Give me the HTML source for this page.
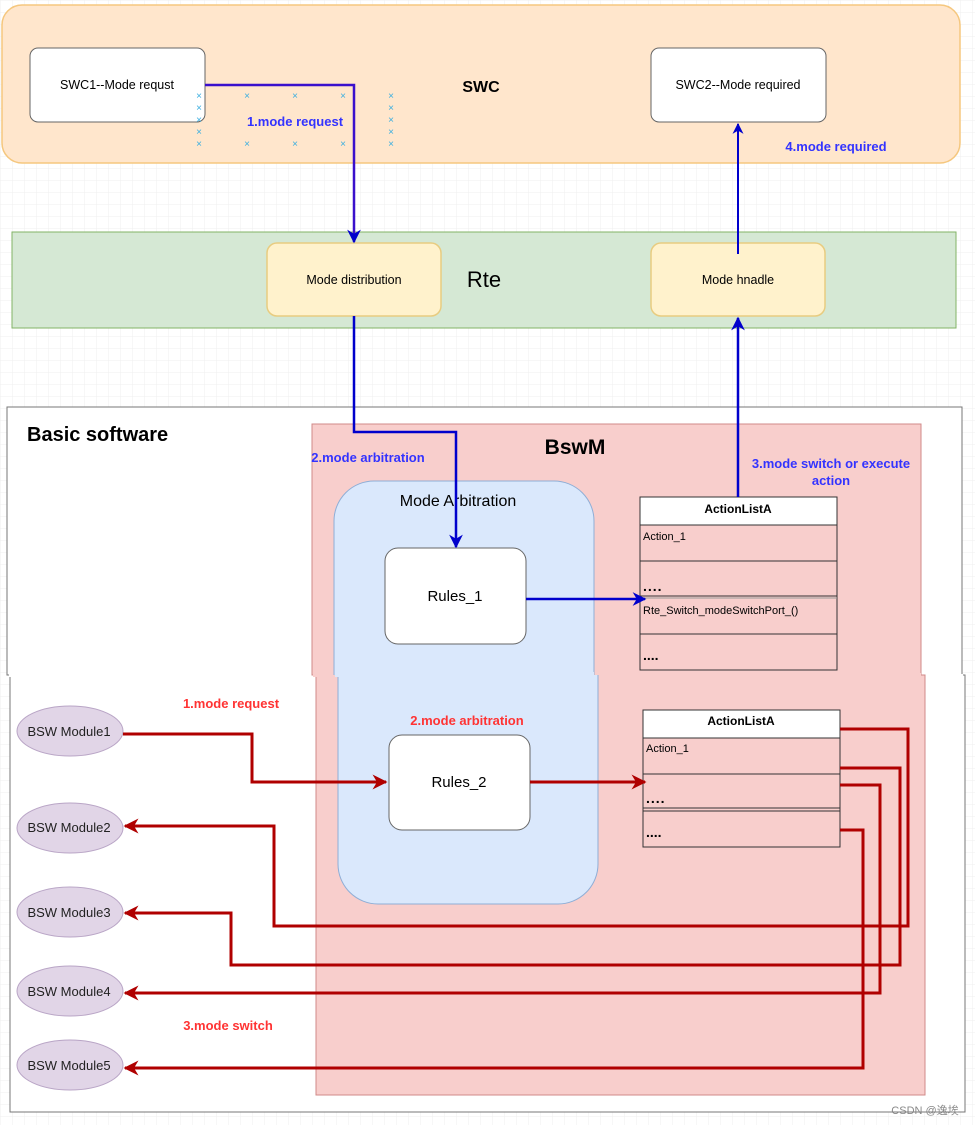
<!DOCTYPE html>
<html><head><meta charset="utf-8"><style>
html,body{margin:0;padding:0;background:#fff}
svg{display:block}
text{font-family:"Liberation Sans","Noto Sans CJK SC",sans-serif}
</style></head><body>
<svg width="975" height="1125" viewBox="0 0 975 1125" xmlns="http://www.w3.org/2000/svg">
<defs>
<pattern id="g" width="12" height="12" patternUnits="userSpaceOnUse"><path d="M12 0H0V12" fill="none" stroke="#efefef" stroke-width="1"/></pattern>
<marker id="ab" viewBox="0 0 10 10" refX="9" refY="5" markerWidth="5.5" markerHeight="5.5" orient="auto"><path d="M0 0L10 5L0 10L3 5z" fill="#0000cc"/></marker>
<marker id="ar" viewBox="0 0 10 10" refX="9" refY="5" markerWidth="5" markerHeight="5" orient="auto"><path d="M0 0L10 5L0 10L3 5z" fill="#b00000"/></marker>
</defs>
<rect width="975" height="1125" fill="url(#g)"/>
<!-- SWC -->
<rect x="2" y="5" width="958" height="158" rx="20" fill="#ffe6cc" stroke="#f5c77e" stroke-width="1.5"/>
<rect x="30" y="48" width="175" height="74" rx="8" fill="#fff" stroke="#666"/>
<text x="117" y="89" font-size="12.5" text-anchor="middle">SWC1--Mode requst</text>
<rect x="651" y="48" width="175" height="74" rx="8" fill="#fff" stroke="#666"/>
<text x="738" y="89" font-size="12.5" text-anchor="middle">SWC2--Mode required</text>
<text x="481" y="92" font-size="16" font-weight="bold" text-anchor="middle">SWC</text>
<g style="fill:#3aaee0" font-size="10" text-anchor="middle">
<text x="199" y="99">×</text><text x="199" y="111">×</text><text x="199" y="123">×</text><text x="199" y="135">×</text><text x="199" y="147">×</text>
<text x="247" y="99">×</text><text x="295" y="99">×</text><text x="343" y="99">×</text><text x="391" y="99">×</text>
<text x="391" y="111">×</text><text x="391" y="123">×</text><text x="391" y="135">×</text><text x="391" y="147">×</text>
<text x="247" y="147">×</text><text x="295" y="147">×</text><text x="343" y="147">×</text>
</g>
<text x="295" y="126" font-size="13" font-weight="bold" fill="#3333ff" text-anchor="middle">1.mode request</text>
<text x="836" y="151" font-size="13" font-weight="bold" fill="#3333ff" text-anchor="middle">4.mode required</text>
<!-- Rte -->
<rect x="12" y="232" width="944" height="96" fill="#d5e8d4" stroke="#82b366"/>
<rect x="267" y="243" width="174" height="73" rx="10" fill="#fff2cc" stroke="#e8cc80" stroke-width="1.5"/>
<text x="354" y="284" font-size="12.5" text-anchor="middle">Mode  distribution</text>
<rect x="651" y="243" width="174" height="73" rx="10" fill="#fff2cc" stroke="#e8cc80" stroke-width="1.5"/>
<text x="738" y="284" font-size="12.5" text-anchor="middle">Mode  hnadle</text>
<text x="484" y="287" font-size="22" text-anchor="middle">Rte</text>
<!-- Basic software -->
<rect x="7" y="407" width="955" height="268" fill="#fff" stroke="#777"/>
<rect x="10" y="675" width="955" height="437" fill="#fff" stroke="#777"/>
<rect x="9" y="674" width="954" height="3" fill="#fff"/>
<text x="27" y="441" font-size="20" font-weight="bold">Basic software</text>
<rect x="312" y="424" width="609" height="251" fill="#f8cecc" stroke="#d08a88"/>
<rect x="316" y="675" width="609" height="420" fill="#f8cecc" stroke="#d08a88"/>
<rect x="313" y="673" width="608" height="4" fill="#f8cecc"/>
<text x="575" y="454" font-size="21" font-weight="bold" text-anchor="middle">BswM</text>
<path d="M334 675V521a40 40 0 0 1 40-40h180a40 40 0 0 1 40 40V675" fill="#dae8fc" stroke="#8faed6"/>
<path d="M338 675V864a40 40 0 0 0 40 40h180a40 40 0 0 0 40-40V675" fill="#dae8fc" stroke="#8faed6"/>
<rect x="335" y="672" width="259" height="5" fill="#dae8fc"/>
<text x="458" y="506" font-size="16" text-anchor="middle">Mode Arbitration</text>
<rect x="385" y="548" width="141" height="96" rx="13" fill="#fff" stroke="#666"/>
<text x="455" y="601" font-size="15" text-anchor="middle">Rules_1</text>
<rect x="389" y="735" width="141" height="95" rx="13" fill="#fff" stroke="#666"/>
<text x="459" y="787" font-size="15" text-anchor="middle">Rules_2</text>
<!-- ActionList top -->
<g stroke="#333" stroke-width="1">
<rect x="640" y="497" width="197" height="173" fill="#f8cecc"/>
<rect x="640" y="497" width="197" height="28" fill="#fff"/>
<line x1="640" y1="561" x2="837" y2="561"/><line x1="640" y1="596" x2="837" y2="596"/><line x1="640" y1="598" x2="837" y2="598" stroke="#999"/>
<line x1="640" y1="634" x2="837" y2="634"/>
</g>
<text x="738" y="513" font-size="12" font-weight="bold" text-anchor="middle">ActionListA</text>
<text x="643" y="540" font-size="11">Action_1</text>
<text x="643" y="591" font-size="14" font-weight="bold" letter-spacing="1">....</text>
<text x="643" y="614" font-size="11">Rte_Switch_modeSwitchPort_()</text>
<text x="643" y="660" font-size="14" font-weight="bold">....</text>
<!-- ActionList bottom -->
<g stroke="#333" stroke-width="1">
<rect x="643" y="710" width="197" height="137" fill="#f8cecc"/>
<rect x="643" y="710" width="197" height="28" fill="#fff"/>
<line x1="643" y1="774" x2="840" y2="774"/><line x1="643" y1="808" x2="840" y2="808"/><line x1="643" y1="811" x2="840" y2="811"/>
</g>
<text x="741" y="725" font-size="12" font-weight="bold" text-anchor="middle">ActionListA</text>
<text x="646" y="752" font-size="11">Action_1</text>
<text x="646" y="803" font-size="14" font-weight="bold" letter-spacing="1">....</text>
<text x="646" y="837" font-size="14" font-weight="bold">....</text>
<!-- BSW modules -->
<g fill="#e1d5e7" stroke="#b9a5c6">
<ellipse cx="70" cy="731" rx="53" ry="25"/><ellipse cx="70" cy="828" rx="53" ry="25"/>
<ellipse cx="70" cy="912" rx="53" ry="25"/><ellipse cx="70" cy="991" rx="53" ry="25"/>
<ellipse cx="70" cy="1065" rx="53" ry="25"/>
</g>
<g font-size="13" fill="#222" text-anchor="middle">
<text x="69" y="736">BSW Module1</text><text x="69" y="832">BSW Module2</text>
<text x="69" y="917">BSW Module3</text><text x="69" y="996">BSW Module4</text>
<text x="69" y="1070">BSW Module5</text>
</g>
<!-- blue connectors -->
<g fill="none" stroke="#0000cc" stroke-width="2.5">
<path d="M205 85H354V242" marker-end="url(#ab)" stroke="#3a10cc"/>
<path d="M354 316V432H456V547" marker-end="url(#ab)"/>
<path d="M526 599H645" marker-end="url(#ab)"/>
<path d="M738 497V318" marker-end="url(#ab)"/>
<path d="M738 254V124" marker-end="url(#ab)" stroke-width="2"/>
</g>
<text x="368" y="462" font-size="13" font-weight="bold" fill="#3333ff" text-anchor="middle">2.mode arbitration</text>
<text x="831" y="468" font-size="13" font-weight="bold" fill="#3333ff" text-anchor="middle">3.mode switch or execute</text>
<text x="831" y="485" font-size="13" font-weight="bold" fill="#3333ff" text-anchor="middle">action</text>
<!-- red connectors -->
<g fill="none" stroke="#b00000" stroke-width="3">
<path d="M123 734H252V782H386" marker-end="url(#ar)"/>
<path d="M530 782H645" marker-end="url(#ar)"/>
<path d="M840 729H908V926H274V826H125" marker-end="url(#ar)"/>
<path d="M840 768H900V965H231V913H125" marker-end="url(#ar)"/>
<path d="M840 785H880V993H125" marker-end="url(#ar)"/>
<path d="M840 830H863V1068H125" marker-end="url(#ar)"/>
</g>
<text x="231" y="708" font-size="13" font-weight="bold" fill="#ff3333" text-anchor="middle">1.mode request</text>
<text x="467" y="725" font-size="13" font-weight="bold" fill="#ff3333" text-anchor="middle">2.mode arbitration</text>
<text x="228" y="1030" font-size="13" font-weight="bold" fill="#ff3333" text-anchor="middle">3.mode switch</text>
<text x="925" y="1114" font-size="11" fill="#888" text-anchor="middle">CSDN @逸埃</text>
</svg>
</body></html>
